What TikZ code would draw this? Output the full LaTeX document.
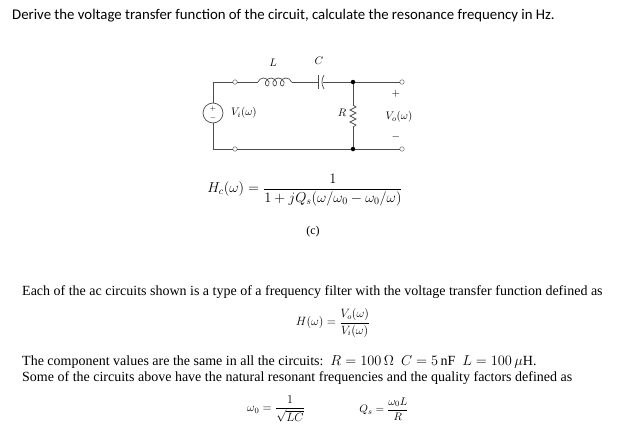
\documentclass[tikz,border=0pt]{standalone}
\usepackage{amsmath}
\usepackage{fontspec}
\setmainfont{Liberation Serif}
\newfontfamily\calfont{Carlito}
\usetikzlibrary{decorations.pathmorphing}
\begin{document}
\begin{tikzpicture}[x=1pt,y=-1pt,
  wire/.style={line width=0.7pt,gray!60!black},
  term/.style={circle,draw,gray!60!black,fill=white,inner sep=0pt,minimum size=4.5pt},
  dot/.style={circle,fill=black,inner sep=0pt,minimum size=4.5pt},
  lbl/.style={inner sep=0pt,font=\fontsize{11}{12}\selectfont}]
\useasboundingbox (0,0) rectangle (627,445);
\node[anchor=west,inner sep=0pt,font=\calfont\fontsize{14.8}{16}\selectfont] (title) at (12,16) {Derive the voltage transfer function of the circuit, calculate the resonance frequency in Hz.};
% circuit
\coordinate (tl) at (213,82); \coordinate (bl) at (213,149);
\node[circle,draw,gray!60!black,line width=0.7pt,minimum size=20pt,inner sep=0pt] (src) at (213,113) {};
\node[font=\fontsize{7}{7}\selectfont,inner sep=0pt] at (213,108.5) {$+$};
\node[font=\fontsize{7}{7}\selectfont,inner sep=0pt] at (213,117.5) {$-$};
\node[term] (t1) at (235,82) {}; \node[term] (t2) at (235,149) {};
\node[term] (t3) at (402,82) {}; \node[term] (t4) at (402,149) {};
\node[dot] (j1) at (353,82) {}; \node[dot] (j2) at (353,149) {};
\coordinate (la) at (258,82); \coordinate (lb) at (292,82);
\coordinate (ca) at (318,82); \coordinate (cb) at (323,82);
\coordinate (ra) at (353,105); \coordinate (rb) at (353,127);
\draw[wire] (src.north) -- (tl) -- (t1) -- (la);
\draw[wire] (src.south) -- (bl) -- (t2) -- (j2) -- (t4);
\draw[wire,decorate,decoration={coil,aspect=0.9,segment length=7.5pt,amplitude=4pt}] (la) -- (lb);
\draw[wire] (lb) -- (ca);
\draw[wire] (318,75) -- (318,89);
\draw[wire] (324,75) to[bend right=30] (324,89);
\draw[wire] (cb) -- (j1) -- (t3);
\draw[wire] (j1) -- (ra);
\draw[wire] (ra) -- ++(3,2) -- ++(-6,3) -- ++(6,3) -- ++(-6,3) -- ++(6,3) -- ++(-6,3) -- ++(6,3) -- (rb);
\draw[wire] (rb) -- (j2);
\node[lbl] (lL) at (273,63) {$L$};
\node[lbl] (lC) at (319,61) {$C$};
\node[lbl] (lR) at (342,113) {$R$};
\node[lbl] (lVi) at (244,113) {$V_i(\omega)$};
\node[lbl] (lVo) at (399,117) {$V_o(\omega)$};
\node[lbl] (pl) at (396,94) {$+$};
\node[lbl] (mi) at (396,137) {$-$};
% Hc
\node[inner sep=0pt,font=\fontsize{14.5}{16}\selectfont] (hc) at (305,190) {$H_c(\omega)=\dfrac{1}{1+jQ_s(\omega/\omega_0-\omega_0/\omega)}$};
\node[inner sep=0pt,font=\fontsize{12}{14}\selectfont] (c) at (313,232) {(c)};
% text
\node[anchor=west,inner sep=0pt,font=\fontsize{14}{16}\selectfont] (p1) at (22,292) {Each of the ac circuits shown is a type of a frequency filter with the voltage transfer function defined as};
\node[inner sep=0pt,font=\fontsize{11.7}{13}\selectfont] (h) at (333,323) {$H(\omega)=\dfrac{V_o(\omega)}{V_i(\omega)}$};
\node[anchor=west,inner sep=0pt,font=\fontsize{14}{16}\selectfont] (p2) at (22,362) {The component values are the same in all the circuits:\ \ $R=100\,\Omega$\ \ $C=5\,\mathrm{nF}$\ \ $L=100\,\mu\mathrm{H}$.};
\node[anchor=west,inner sep=0pt,font=\fontsize{14}{16}\selectfont] (p3) at (22,378) {Some of the circuits above have the natural resonant frequencies and the quality factors defined as};
\node[inner sep=0pt,font=\fontsize{12}{14}\selectfont] (w0) at (276,409) {$\omega_0=\dfrac{1}{\sqrt{LC}}$};
\node[inner sep=0pt,font=\fontsize{11}{13}\selectfont] (qs) at (384,409) {$Q_s=\dfrac{\omega_0L}{R}$};
\end{tikzpicture}
\end{document}
